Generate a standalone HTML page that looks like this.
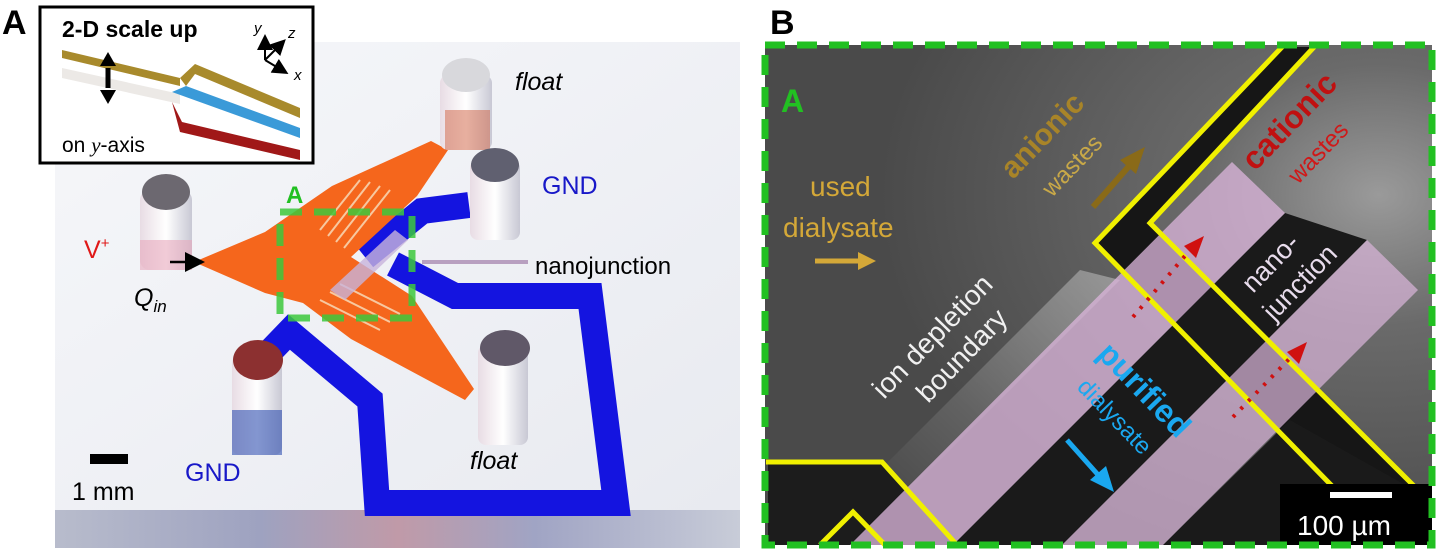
<!DOCTYPE html>
<html><head><meta charset="utf-8"><style>
body{margin:0;width:1440px;height:560px;background:#fff;overflow:hidden}
svg{display:block}
text{font-family:"Liberation Sans",Arial,sans-serif}
</style></head><body>
<svg width="1440" height="560" viewBox="0 0 1440 560" xmlns="http://www.w3.org/2000/svg">
<defs>
<linearGradient id="bg" x1="0" y1="0" x2="1" y2="1">
<stop offset="0" stop-color="#f6f7fa"/><stop offset="1" stop-color="#e8eaf0"/></linearGradient>
<linearGradient id="metal" x1="0" y1="0" x2="1" y2="0">
<stop offset="0" stop-color="#b8bccc"/><stop offset="0.3" stop-color="#9ea2c0"/><stop offset="0.5" stop-color="#c09aa8"/><stop offset="0.7" stop-color="#a0a4c4"/><stop offset="1" stop-color="#c8ccd8"/></linearGradient>
<radialGradient id="dark" cx="0.92" cy="0.3" r="0.75">
<stop offset="0" stop-color="#9a9a9a"/><stop offset="0.35" stop-color="#6a6a6a"/><stop offset="1" stop-color="#4a4a4a"/></radialGradient>
<linearGradient id="cyl" x1="0" y1="0" x2="1" y2="0">
<stop offset="0" stop-color="#e8dce4"/><stop offset="0.5" stop-color="#fff"/><stop offset="1" stop-color="#c8c8d4"/></linearGradient>
<linearGradient id="glow" x1="0" y1="1" x2="1" y2="0">
<stop offset="0" stop-color="#fff" stop-opacity="0"/><stop offset="1" stop-color="#fff" stop-opacity="0.35"/></linearGradient>
<marker id="ah" markerWidth="8" markerHeight="8" refX="6" refY="4" orient="auto"><path d="M0,0 L8,4 L0,8z" fill="#000"/></marker>
</defs>

<!-- LEFT PANEL -->
<text x="2" y="34" font-size="34" font-weight="bold">A</text>
<rect x="55" y="42" width="685" height="470" fill="url(#bg)"/>
<rect x="55" y="510" width="685" height="38" fill="url(#metal)"/>

<g fill="none" stroke="#1414e0" stroke-width="26" stroke-linejoin="miter">
<polyline points="469,205 422,211 365,257"/>
<polyline points="393,264 455,296 590,296 616,503 377,503 370,400 289,332 262,360"/>
</g>
<polygon points="194,262 265,232 332,186 431,141 448,150 417,196 351,257 412,296 474,389 465,400 351,339 303,303 265,293" fill="#f5661c"/>
<g stroke="#f7c8a0" stroke-width="2">
<line x1="320" y1="230" x2="360" y2="180"/><line x1="328" y1="236" x2="370" y2="182"/><line x1="336" y1="242" x2="380" y2="186"/><line x1="344" y1="248" x2="390" y2="190"/>
<line x1="320" y1="300" x2="380" y2="330"/><line x1="330" y1="292" x2="390" y2="322"/><line x1="340" y1="284" x2="400" y2="314"/>
</g>
<polygon points="330,290 395,230 408,240 345,300" fill="#c8b4dc" opacity="0.8"/>
<line x1="422" y1="262" x2="528" y2="262" stroke="#b8a0c0" stroke-width="4"/>

<g>
<rect x="140" y="190" width="52" height="80" rx="10" fill="url(#cyl)"/><rect x="140" y="240" width="52" height="30" fill="#e8a8bc" opacity="0.6"/>
<ellipse cx="166" cy="192" rx="24" ry="18" fill="#6c6870"/>
<rect x="440" y="75" width="52" height="75" rx="8" fill="url(#cyl)"/><rect x="445" y="110" width="45" height="40" fill="#d06040" opacity="0.5"/>
<ellipse cx="466" cy="75" rx="24" ry="17" fill="#d8d8dc"/>
<rect x="470" y="160" width="50" height="80" rx="8" fill="url(#cyl)"/>
<ellipse cx="495" cy="165" rx="24" ry="17" fill="#606070"/>
<rect x="232" y="355" width="50" height="100" rx="8" fill="url(#cyl)"/><rect x="232" y="410" width="50" height="45" fill="#3050b0" opacity="0.6"/>
<ellipse cx="258" cy="360" rx="25" ry="20" fill="#8c3030"/>
<rect x="478" y="345" width="50" height="100" rx="8" fill="url(#cyl)"/>
<ellipse cx="505" cy="348" rx="25" ry="18" fill="#605868"/>
</g>

<rect x="280" y="212" width="132" height="106" fill="none" stroke="#3cc83c" stroke-width="7" stroke-dasharray="22,12" opacity="0.85"/>
<text x="286" y="203" font-size="24" font-weight="bold" fill="#22c022">A</text>

<rect x="40" y="7" width="273" height="156" fill="#fff" stroke="#000" stroke-width="3"/>
<text x="62" y="37" font-size="23" font-weight="bold">2-D scale up</text>
<text x="62" y="152" font-size="21">on <tspan font-family="Liberation Serif" font-style="italic">y</tspan>-axis</text>
<polygon points="62,68 180,94 180,104 62,78" fill="#ece9e6"/>
<polygon points="62,50 180,78 180,86 62,58" fill="#a88a2c"/>
<polygon points="180,78 195,64 300,108 300,118 195,74 186,86" fill="#a88a2c"/>
<polygon points="172,92 186,86 300,128 300,138" fill="#3a9ad8"/>
<polygon points="172,102 182,122 300,150 300,160 180,132" fill="#a01818"/>
<line x1="108" y1="68" x2="108" y2="88" stroke="#000" stroke-width="5"/>
<polygon points="100,66 116,66 108,52" fill="#000"/><polygon points="100,90 116,90 108,104" fill="#000"/>
<g stroke="#000" stroke-width="2" fill="none">
<line x1="265" y1="60" x2="265" y2="38" marker-end="url(#ah)"/>
<line x1="265" y1="60" x2="283" y2="42" marker-end="url(#ah)"/>
<line x1="265" y1="60" x2="285" y2="72" marker-end="url(#ah)"/>
</g>
<text x="254" y="33" font-size="15" font-style="italic" font-family="Liberation Serif">y</text>
<text x="288" y="38" font-size="15" font-style="italic" font-family="Liberation Serif">z</text>
<text x="294" y="80" font-size="15" font-style="italic" font-family="Liberation Serif">x</text>

<text x="515" y="90" font-size="25" font-style="italic">float</text>
<text x="542" y="194" font-size="25" fill="#1818c8">GND</text>
<text x="84" y="258" font-size="25" fill="#e01818">V<tspan dy="-10" font-size="15">+</tspan></text>
<line x1="170" y1="262" x2="200" y2="262" stroke="#000" stroke-width="2.5" marker-end="url(#ah)"/>
<text x="134" y="306" font-size="25" font-style="italic">Q<tspan dy="6" font-size="17">in</tspan></text>
<text x="535" y="274" font-size="24">nanojunction</text>
<text x="185" y="481" font-size="25" fill="#1818c8">GND</text>
<text x="470" y="469" font-size="25" font-style="italic">float</text>
<rect x="90" y="454" width="38" height="10" fill="#000"/>
<text x="72" y="500" font-size="25">1 mm</text>

<!-- RIGHT PANEL -->
<text x="770" y="34" font-size="34" font-weight="bold">B</text>
<rect x="765" y="45" width="667" height="500" fill="url(#dark)"/>
<polygon points="880,470 1080,270 1120,280 900,500" fill="url(#glow)"/>
<polygon points="1283,47 1315,47 1150,223 1413,485 1330,485 1095,243" fill="#161616"/>
<polygon points="768,462 882,462 957,545 768,545" fill="#1c1c1c"/>
<polygon points="953,545 1285,213 1367,240 1062,545" fill="#1a1a1a"/>
<polygon points="1163,545 1290,420 1432,500 1432,545" fill="#1a1a1a"/>
<polygon points="1232,162 1285,213 953,545 850,545" fill="#d8b4d8" opacity="0.78"/>
<polygon points="1367,240 1418,290 1163,545 1062,545" fill="#d8b4d8" opacity="0.72"/>
<g fill="none" stroke="#f0f000" stroke-width="5">
<polyline points="1283,46 1095,243 1333,487"/>
<polyline points="1315,46 1150,223 1415,487"/>
<polyline points="766,462 882,462 957,545"/>
<polyline points="820,545 853,512 885,545"/>
</g>
<g stroke="#d01010" stroke-width="4" stroke-dasharray="3,8" fill="none">
<line x1="1133" y1="317" x2="1190" y2="250"/>
<line x1="1233" y1="417" x2="1293" y2="355"/>
</g>
<polygon points="1184,246 1204,236 1196,258" fill="#d01010"/>
<polygon points="1287,352 1307,342 1299,364" fill="#d01010"/>

<rect x="1280" y="484" width="152" height="61" fill="#000"/>
<rect x="1330" y="492" width="62" height="6" fill="#fff"/>
<text x="1297" y="535" font-size="28" fill="#fff">100 µm</text>

<rect x="765" y="45" width="667" height="500" fill="none" stroke="#22c022" stroke-width="7" stroke-dasharray="20,12"/>
<text x="781" y="112" font-size="32" font-weight="bold" fill="#22c022">A</text>

<text x="810" y="196" font-size="28" fill="#d4a838">used</text>
<text x="783" y="237" font-size="28" fill="#d4a838">dialysate</text>
<line x1="815" y1="261" x2="860" y2="261" stroke="#d4a838" stroke-width="5"/>
<polygon points="858,252 876,261 858,270" fill="#d4a838"/>

<text transform="translate(1013,180) rotate(-46)" font-size="30" font-weight="bold" fill="#a88428">anionic</text>
<text transform="translate(1052,198) rotate(-46)" font-size="24" fill="#c8a848">wastes</text>
<line x1="1093" y1="207" x2="1130" y2="165" stroke="#8a6a18" stroke-width="6"/>
<polygon points="1120,160 1145,147 1136,174" fill="#8a6a18"/>

<text transform="translate(1255,172) rotate(-46)" font-size="32" font-weight="bold" fill="#c01010">cationic</text>
<text transform="translate(1298,185) rotate(-46)" font-size="24" fill="#d01818">wastes</text>

<text transform="translate(884,400) rotate(-46)" font-size="28" fill="#f0f0f0">ion depletion</text>
<text transform="translate(928,404) rotate(-46)" font-size="28" fill="#f0f0f0">boundary</text>

<text transform="translate(1253,294) rotate(-46)" font-size="27" fill="#e8dcec">nano-</text>
<text transform="translate(1274,322) rotate(-46)" font-size="27" fill="#e8dcec">junction</text>

<text transform="translate(1096,355) rotate(46)" font-size="32" font-weight="bold" fill="#1aa8f0">purified</text>
<text transform="translate(1076,388) rotate(46)" font-size="24" fill="#1aa8f0">dialysate</text>
<line x1="1067" y1="440" x2="1100" y2="477" stroke="#1aa8f0" stroke-width="5"/>
<polygon points="1090,480 1114,492 1106,466" fill="#1aa8f0"/>
</svg>
</body></html>
